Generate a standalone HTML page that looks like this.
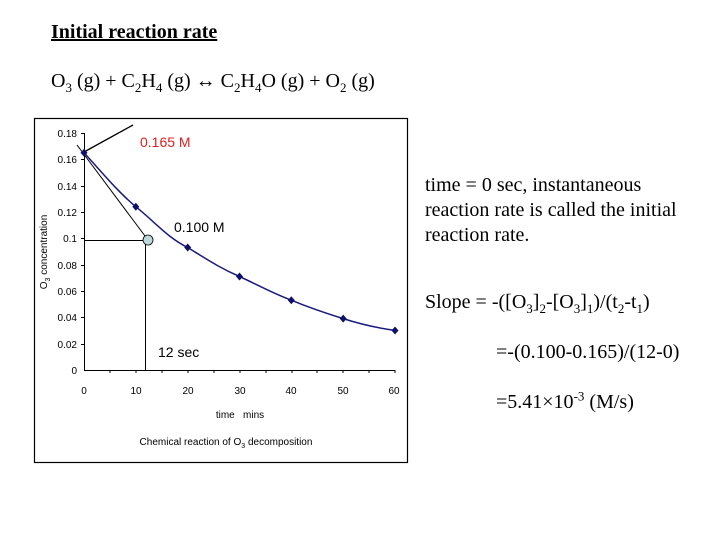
<!DOCTYPE html>
<html><head><style>
body{margin:0;width:720px;height:540px;background:#fff;position:relative;overflow:hidden;font-family:"Liberation Serif",serif;}
.t{position:absolute;font-size:20px;color:#000;white-space:nowrap;}
sub,sup{font-size:13px;line-height:0}
</style></head><body>
<div class="t" style="left:51px;top:21px;font-weight:bold;text-decoration:underline;">Initial reaction rate</div>
<div class="t" style="left:51px;top:70px;">O<sub>3</sub> (g) + C<sub>2</sub>H<sub>4</sub> (g) &#8596; C<sub>2</sub>H<sub>4</sub>O (g) + O<sub>2</sub> (g)</div>
<div class="t" style="left:425px;top:173px;line-height:25px;">time = 0 sec, instantaneous<br>reaction rate is called the initial<br>reaction rate.</div>
<div class="t" style="left:425px;top:291px;">Slope = -([O<sub>3</sub>]<sub>2</sub>-[O<sub>3</sub>]<sub>1</sub>)/(t<sub>2</sub>-t<sub>1</sub>)</div>
<div class="t" style="left:496px;top:341px;">=-(0.100-0.165)/(12-0)</div>
<div class="t" style="left:496px;top:391px;">=5.41&#215;10<sup>-3</sup> (M/s)</div>
<svg width="720" height="540" style="position:absolute;left:0;top:0" font-family="Liberation Sans, sans-serif">
<rect x="34.5" y="118.5" width="373" height="344" fill="none" stroke="#000" stroke-width="1.2"/>
<g stroke="#000" stroke-width="1">
<line x1="84.5" y1="133" x2="84.5" y2="370"/>
<line x1="84" y1="370.5" x2="395" y2="370.5"/>
</g>
<g font-size="10" text-anchor="end" fill="#000">
<text x="77" y="137">0.18</text><text x="77" y="163">0.16</text><text x="77" y="190">0.14</text><text x="77" y="216">0.12</text><text x="77" y="242">0.1</text><text x="77" y="269">0.08</text><text x="77" y="295">0.06</text><text x="77" y="321">0.04</text><text x="77" y="348">0.02</text><text x="77" y="374">0</text>
</g>
<g stroke="#000"><line x1="81" y1="133.5" x2="84" y2="133.5"/><line x1="81" y1="159.5" x2="84" y2="159.5"/><line x1="81" y1="186.5" x2="84" y2="186.5"/><line x1="81" y1="212.5" x2="84" y2="212.5"/><line x1="81" y1="238.5" x2="84" y2="238.5"/><line x1="81" y1="265.5" x2="84" y2="265.5"/><line x1="81" y1="291.5" x2="84" y2="291.5"/><line x1="81" y1="317.5" x2="84" y2="317.5"/><line x1="81" y1="344.5" x2="84" y2="344.5"/>
<line x1="110" y1="370" x2="110" y2="373"/><line x1="136" y1="370" x2="136" y2="373"/><line x1="162" y1="370" x2="162" y2="373"/><line x1="188" y1="370" x2="188" y2="373"/><line x1="214" y1="370" x2="214" y2="373"/><line x1="240" y1="370" x2="240" y2="373"/><line x1="266" y1="370" x2="266" y2="373"/><line x1="292" y1="370" x2="292" y2="373"/><line x1="317" y1="370" x2="317" y2="373"/><line x1="343" y1="370" x2="343" y2="373"/><line x1="369" y1="370" x2="369" y2="373"/><line x1="395" y1="370" x2="395" y2="373"/></g>
<g font-size="10" text-anchor="middle"><text x="84" y="394">0</text><text x="136" y="394">10</text><text x="188" y="394">20</text><text x="240" y="394">30</text><text x="291" y="394">40</text><text x="343" y="394">50</text><text x="394" y="394">60</text></g>
<text x="240" y="418" font-size="10" text-anchor="middle">time &#160; mins</text>
<text x="226" y="445" font-size="10" text-anchor="middle">Chemical reaction of O<tspan font-size="7" dy="3">3</tspan><tspan dy="-3"> decomposition</tspan></text>
<text transform="translate(47,252) rotate(-90)" font-size="10" text-anchor="middle">O<tspan font-size="7" dy="3">3</tspan><tspan dy="-3"> concentration</tspan></text>
<line x1="84" y1="240.5" x2="148" y2="240.5" stroke="#000"/>
<line x1="145.5" y1="240" x2="145.5" y2="370" stroke="#000"/>
<line x1="77" y1="145" x2="148" y2="240" stroke="#000"/>
<line x1="84" y1="152" x2="133" y2="125" stroke="#000" stroke-width="1.3"/>
<path d="M84,152.7 C100,170 118,192 135.8,206.7 C155,222 168,238 187.7,247.5 C208,260 220,268 239.5,276.5 C258,285 272,293 291.3,300.2 C310,308 325,313 343.2,318.6 C360,324 378,328 395,330.5" fill="none" stroke="#1a1a80" stroke-width="1.5"/>
<g fill="#10106a">
<path d="M84,148.7 l3.5,4 -3.5,4 -3.5,-4z"/><path d="M135.8,202.7 l3.5,4 -3.5,4 -3.5,-4z"/><path d="M187.7,243.5 l3.5,4 -3.5,4 -3.5,-4z"/><path d="M239.5,272.5 l3.5,4 -3.5,4 -3.5,-4z"/><path d="M291.3,296.2 l3.5,4 -3.5,4 -3.5,-4z"/><path d="M343.2,314.6 l3.5,4 -3.5,4 -3.5,-4z"/><path d="M395,326.5 l3.5,4 -3.5,4 -3.5,-4z"/>
</g>
<circle cx="148" cy="240" r="5" fill="#bcd8dc" stroke="#000" stroke-width="0.8"/>
<text x="140" y="147" font-size="14" fill="#e02020">0.165 M</text>
<text x="174" y="232" font-size="14">0.100 M</text>
<text x="158" y="357" font-size="14">12 sec</text>
</svg>
</body></html>
